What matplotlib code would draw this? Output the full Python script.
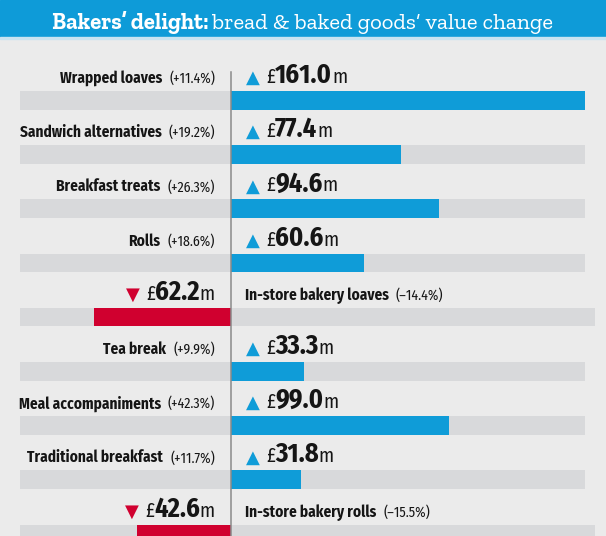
import matplotlib
matplotlib.use('Agg')
import matplotlib.pyplot as plt
import matplotlib.transforms as mtransforms
from matplotlib.patches import Rectangle

categories = ['Wrapped loaves', 'Sandwich alternatives', 'Breakfast treats', 'Rolls',
              'In-store bakery loaves', 'Tea break', 'Meal accompaniments',
              'Traditional breakfast', 'In-store bakery rolls']
values = [161.0, 77.4, 94.6, 60.6, -62.2, 33.3, 99.0, 31.8, -42.6]
pct_labels = ['+11.4%', '+19.2%', '+26.3%', '+18.6%', '\u201314.4%', '+9.9%',
              '+42.3%', '+11.7%', '\u201315.5%']

BLUE = '#0f9cd8'
RED = '#d0002f'
TRACK = '#d8d9db'
BG = '#ebebeb'
INK = '#151515'
SANS = 'Fira Sans Condensed'

ROW = 54.2      # px between rows
PX = 2.2        # px per £m
ZERO = 231      # px of the zero line

fig = plt.figure(figsize=(6.06, 5.36), dpi=100)
fig.patch.set_facecolor(BG)
ax = fig.add_axes([0, 0, 1, 1])
ax.set_facecolor(BG)
ax.set_xlim(-ZERO / PX, (606 - ZERO) / PX)
ax.set_ylim((536 - 100.25) / ROW, -100.25 / ROW)
ax.axis('off')

rows = list(range(len(values)))
bar_h = 18.5 / ROW
track_left = -95.9
for i, v in zip(rows, values):
    right = 161 if v > 0 else 165.5
    ax.barh(i, right - track_left, left=track_left, height=bar_h, color=TRACK, zorder=1)
ax.barh(rows, values, height=bar_h, color=[BLUE if v > 0 else RED for v in values], zorder=2)
ax.plot([0, 0], [-28 / ROW, len(values)], color='#8a8a8a', lw=1.1, zorder=3)

renderer = fig.canvas.get_renderer()


def run(base, x, y, dx, pieces, align='left'):
    texts = []
    for s, kw, gap in pieces:
        t = ax.text(x, y, s, va='baseline', ha='left', transform=base, **kw)
        texts.append((t, gap))
    widths = [t.get_window_extent(renderer).width for t, _ in texts]
    total = sum(widths) + sum(g for _, g in texts[:-1])
    cur = dx if align == 'left' else dx - total
    for (t, gap), w in zip(texts, widths):
        t.set_transform(mtransforms.offset_copy(base, fig=fig, x=cur, y=0, units='dots'))
        cur += w + gap


for i, (cat, v, p) in zip(rows, zip(categories, values, pct_labels)):
    yb = i - (9.25 + 8) / ROW
    up = v > 0
    tri = '\u25b2' if up else '\u25bc'
    value_pieces = [
        (tri, dict(family='DejaVu Sans', fontsize=13, color=BLUE if up else RED), 6),
        ('\u00a3', dict(family=SANS, fontsize=14, color=INK), 0),
        (f'{abs(v):.1f}', dict(family=SANS, fontsize=19, fontweight='bold', color=INK), 0),
        ('m', dict(family=SANS, fontsize=14, color=INK), 0),
    ]
    label_pieces = [
        (cat, dict(family=SANS, fontsize=11, fontweight='bold', color=INK), 7),
        (f'({p})', dict(family=SANS, fontsize=10, color=INK), 0),
    ]
    if up:
        run(ax.transData, 0, yb, -16, label_pieces, 'right')
        run(ax.transData, 0, yb, 15, value_pieces, 'left')
    else:
        run(ax.transData, 0, yb, -16, value_pieces, 'right')
        run(ax.transData, 0, yb, 14, label_pieces, 'left')

# title bar
fig.patches.append(Rectangle((0, 1 - 37 / 536), 1, 37 / 536, transform=fig.transFigure,
                             color='#0e9bd8', zorder=5))
fig.patches.append(Rectangle((0, 1 - 39 / 536), 1, 2 / 536, transform=fig.transFigure,
                             color='#c9e4f1', zorder=5))
title_pieces = [
    ('Bakers\u2019 delight:', dict(family='Zilla Slab', fontsize=16.3, fontweight='bold', color='white'), 4),
    ('bread & baked goods\u2019 value change', dict(family='Zilla Slab', fontsize=16.3, color='white'), 0),
]
texts = []
for s, kw, gap in title_pieces:
    texts.append((fig.text(0.5, 1 - 29 / 536, s, va='baseline', ha='left', zorder=6, **kw), gap))
widths = [t.get_window_extent(renderer).width for t, _ in texts]
total = sum(widths) + sum(g for _, g in texts[:-1])
cur = 302.5 - total / 2
for (t, gap), w in zip(texts, widths):
    t.set_x(cur / 606)
    cur += w + gap

fig.savefig('out.png', dpi=100, facecolor=BG)
